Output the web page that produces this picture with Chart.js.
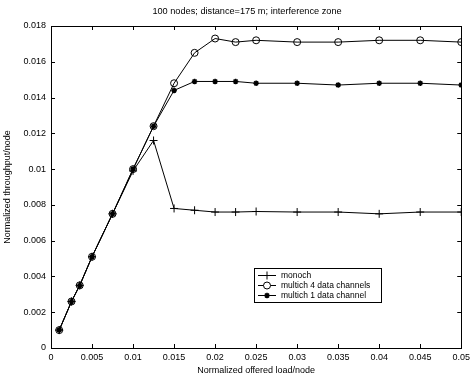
<!DOCTYPE html>
<html>
<head>
<meta charset="utf-8">
<script src="https://cdn.jsdelivr.net/npm/chart.js@4"></script>
<style>
  html, body { margin: 0; padding: 0; background: #fff; }
  #wrap { width: 474px; height: 378px; }
</style>
</head>
<body>
<div id="wrap"><canvas id="chart" width="474" height="378"></canvas></div>
<script>
const offeredLoad = [0.001, 0.0025, 0.0035, 0.005, 0.0075, 0.01, 0.0125, 0.015, 0.0175, 0.02, 0.0225, 0.025, 0.03, 0.035, 0.04, 0.045, 0.05];
const monoch = [0.001, 0.0026, 0.0035, 0.0051, 0.0075, 0.0099, 0.0116, 0.0078, 0.0077, 0.0076, 0.0076, 0.00763, 0.0076, 0.0076, 0.0075, 0.0076, 0.0076];
const multich4 = [0.001, 0.0026, 0.0035, 0.0051, 0.0075, 0.0100, 0.0124, 0.0148, 0.0165, 0.0173, 0.0171, 0.0172, 0.0171, 0.0171, 0.0172, 0.0172, 0.0171];
const multich1 = [0.001, 0.0026, 0.0035, 0.0051, 0.0075, 0.0100, 0.0124, 0.0144, 0.0149, 0.0149, 0.0149, 0.0148, 0.0148, 0.0147, 0.0148, 0.0148, 0.0147];
const seriesNames = ['monoch', 'multich 4 data channels', 'multich 1 data channel'];
const chartTitle = '100 nodes; distance=175 m; interference zone';
const xLabel = 'Normalized offered load/node';
const yLabel = 'Normalized throughput/node';

const FONT = '"Liberation Sans", Arial, sans-serif';

function pts(ys) {
    return offeredLoad.map(function (x, i) { return { x: x, y: ys[i] }; });
}

function fmt(v) {
    if (Math.abs(v) < 1e-9) return '0';
    return String(+v.toFixed(3));
}

// frame, inward ticks, title and legend
const decorations = {
    id: 'decorations',
    afterDraw: function (chart) {
        const ctx = chart.ctx;
        const a = chart.chartArea;
        const xs = chart.scales.x, ys = chart.scales.y;
        ctx.save();
        ctx.strokeStyle = '#000';
        ctx.lineWidth = 1;
        ctx.strokeRect(Math.round(a.left) + 0.5, Math.round(a.top) + 0.5, Math.round(a.right - a.left), Math.round(a.bottom - a.top));
        ctx.beginPath();
        xs.ticks.forEach(function (t) {
            const px = Math.round(xs.getPixelForValue(t.value)) + 0.5;
            ctx.moveTo(px, a.bottom); ctx.lineTo(px, a.bottom - 4);
            ctx.moveTo(px, a.top); ctx.lineTo(px, a.top + 4);
        });
        ys.ticks.forEach(function (t) {
            const py = Math.round(ys.getPixelForValue(t.value)) + 0.5;
            ctx.moveTo(a.left, py); ctx.lineTo(a.left + 4, py);
            ctx.moveTo(a.right, py); ctx.lineTo(a.right - 4, py);
        });
        ctx.stroke();

        ctx.fillStyle = '#000';
        ctx.font = '9.2px ' + FONT;
        ctx.textAlign = 'center';
        ctx.textBaseline = 'middle';
        ctx.fillText(chartTitle, 247, 11);

        // legend box
        const lx = 254, ly = 268, lw = 127, lh = 34;
        ctx.fillStyle = '#fff';
        ctx.fillRect(lx, ly, lw, lh);
        ctx.strokeRect(lx + 0.5, ly + 0.5, lw, lh);
        ctx.textAlign = 'left';
        ctx.font = '8.5px ' + FONT;
        chart.data.datasets.forEach(function (ds, i) {
            const yy = ly + 7 + i * 10;
            ctx.strokeStyle = '#000';
            ctx.lineWidth = 1;
            ctx.beginPath();
            ctx.moveTo(lx + 4, yy + 0.5); ctx.lineTo(lx + 22, yy + 0.5);
            ctx.stroke();
            ctx.fillStyle = ds.pointStyle === 'circle' ? '#fff' : '#000';
            ctx.lineWidth = ds.pointBorderWidth;
            Chart.helpers.drawPoint(ctx, {
                pointStyle: ds.pointStyle, radius: ds.pointRadius, rotation: 0, borderWidth: ds.pointBorderWidth
            }, lx + 13, yy + 0.5);
            ctx.fillStyle = '#000';
            ctx.fillText(ds.label, lx + 27, yy + 1);
        });
        ctx.restore();
    }
};

new Chart(document.getElementById('chart').getContext('2d'), {
    type: 'line',
    data: {
        datasets: [{
            label: seriesNames[0],
            data: pts(monoch),
            borderColor: '#000',
            borderWidth: 1,
            pointStyle: 'cross',
            pointRadius: 4,
            pointBorderColor: '#000',
            pointBorderWidth: 1,
            tension: 0
        }, {
            label: seriesNames[1],
            data: pts(multich4),
            borderColor: '#000',
            borderWidth: 1,
            pointStyle: 'circle',
            pointRadius: 3.5,
            pointBackgroundColor: 'rgba(255,255,255,0)',
            pointBorderColor: '#000',
            pointBorderWidth: 1,
            tension: 0
        }, {
            label: seriesNames[2],
            data: pts(multich1),
            borderColor: '#000',
            borderWidth: 1,
            pointStyle: 'star',
            pointRadius: 2.8,
            pointBorderColor: '#000',
            pointBorderWidth: 1.5,
            tension: 0
        }]
    },
    options: {
        responsive: false,
        animation: false,
        layout: { padding: { top: 26, right: 12, left: 2, bottom: 2 } },
        plugins: {
            legend: { display: false },
            tooltip: { enabled: false }
        },
        scales: {
            x: {
                type: 'linear',
                min: 0,
                max: 0.05,
                grid: { display: false, drawTicks: false },
                border: { display: false },
                ticks: {
                    stepSize: 0.005,
                    color: '#000',
                    font: { family: FONT, size: 9 },
                    padding: 4,
                    maxRotation: 0,
                    callback: function (v) { return fmt(v); }
                },
                title: {
                    display: true,
                    text: xLabel,
                    color: '#000',
                    font: { family: FONT, size: 9 },
                    padding: { top: 3, bottom: 0 }
                },
                afterFit: function (s) { s.height = 28; }
            },
            y: {
                type: 'linear',
                min: 0,
                max: 0.018,
                grid: { display: false, drawTicks: false },
                border: { display: false },
                ticks: {
                    stepSize: 0.002,
                    color: '#000',
                    font: { family: FONT, size: 9 },
                    padding: 5,
                    callback: function (v) { return fmt(v); }
                },
                title: {
                    display: true,
                    text: yLabel,
                    color: '#000',
                    font: { family: FONT, size: 9 },
                    padding: { top: 0, bottom: 0 }
                },
                afterFit: function (s) { s.width = 49; }
            }
        }
    },
    plugins: [decorations]
});
</script>
</body>
</html>
